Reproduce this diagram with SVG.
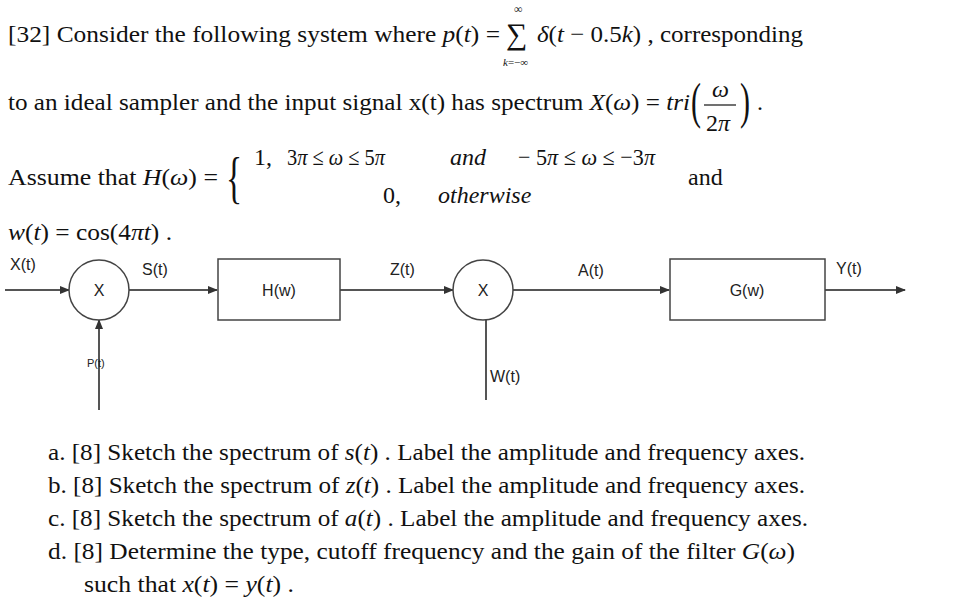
<svg xmlns="http://www.w3.org/2000/svg" width="965" height="615" viewBox="0 0 965 615">
<defs><marker id="ah" markerWidth="10" markerHeight="8" refX="9" refY="4" orient="auto" markerUnits="userSpaceOnUse"><path d="M0,0 L10,4 L0,8 z" fill="#333"/></marker>
<style>
.t{font-family:"Liberation Serif",serif;font-size:24px;fill:#111}
.i{font-style:italic}
.s{font-family:"Liberation Sans",sans-serif;font-size:16px;fill:#222}
.n{fill:#fff;stroke:#444;stroke-width:1.5}
.c{stroke:#555;stroke-width:2;fill:none}
</style></defs>
<rect width="965" height="615" fill="#fff"/>
<text class="t" x="8" y="42" textLength="492" lengthAdjust="spacingAndGlyphs">[32] Consider the following system where <tspan class="i">p</tspan>(<tspan class="i">t</tspan>) =</text>
<text class="t" x="506" y="44" style="font-size:30px">∑</text>
<text class="t" x="514" y="13" style="font-size:12px">∞</text>
<text class="t" x="503" y="66" style="font-size:11px"><tspan class="i">k</tspan>=−∞</text>
<text class="t" x="537" y="42" textLength="266" lengthAdjust="spacingAndGlyphs"><tspan class="i">δ</tspan>(<tspan class="i">t</tspan> − 0.5<tspan class="i">k</tspan>) , corresponding</text>
<text class="t" x="8" y="110" textLength="682" lengthAdjust="spacingAndGlyphs">to an ideal sampler and the input signal x(t) has spectrum <tspan class="i">X</tspan>(<tspan class="i">ω</tspan>) = <tspan class="i">tri</tspan></text>
<text class="t" x="691" y="118" style="font-size:50px" transform="translate(691,118) scale(0.6,1) translate(-691,-118)">(</text>
<text class="t i" x="712" y="97">ω</text>
<line x1="704" y1="105" x2="736" y2="105" stroke="#111" stroke-width="1.2"/>
<text class="t" x="706" y="131">2<tspan class="i">π</tspan></text>
<text class="t" x="740" y="118" style="font-size:50px" transform="translate(740,118) scale(0.6,1) translate(-740,-118)">)</text>
<text class="t" x="757" y="110">.</text>
<text class="t" x="8" y="185" textLength="210" lengthAdjust="spacingAndGlyphs">Assume that <tspan class="i">H</tspan>(<tspan class="i">ω</tspan>) =</text>
<text class="t" x="226" y="197" style="font-size:56px" transform="translate(226,197) scale(0.6,1) translate(-226,-197)">{</text>
<text class="t" x="254" y="165">1,</text>
<text class="t" x="287" y="165" textLength="98" lengthAdjust="spacingAndGlyphs">3<tspan class="i">π</tspan> ≤ <tspan class="i">ω</tspan> ≤ 5<tspan class="i">π</tspan></text>
<text class="t i" x="450" y="165">and</text>
<text class="t" x="518" y="165" textLength="137" lengthAdjust="spacingAndGlyphs">− 5<tspan class="i">π</tspan> ≤ <tspan class="i">ω</tspan> ≤ −3<tspan class="i">π</tspan></text>
<text class="t" x="688" y="185">and</text>
<text class="t" x="383" y="203">0,</text>
<text class="t i" x="438" y="203">otherwise</text>
<text class="t" x="8" y="240" textLength="164" lengthAdjust="spacingAndGlyphs"><tspan class="i">w</tspan>(<tspan class="i">t</tspan>) = cos(4<tspan class="i">πt</tspan>) .</text>
<g id="connectors">
<line class="c" x1="5" y1="290" x2="69" y2="290" marker-end="url(#ah)"/>
<line class="c" x1="129" y1="290" x2="217" y2="290" marker-end="url(#ah)"/>
<line class="c" x1="340" y1="290" x2="453" y2="290" marker-end="url(#ah)"/>
<line class="c" x1="513" y1="290" x2="669" y2="290" marker-end="url(#ah)"/>
<line class="c" x1="825" y1="290" x2="905" y2="290" marker-end="url(#ah)"/>
<line class="c" x1="99" y1="410" x2="99" y2="320" marker-end="url(#ah)"/>
<line class="c" x1="486" y1="320" x2="486" y2="400"/>
</g>
<g id="m1"><ellipse class="n" cx="99" cy="290" rx="30" ry="30"/><text class="s" x="99" y="296" text-anchor="middle">X</text></g>
<g id="h"><rect class="n" x="218" y="259" width="122" height="61"/><text class="s" x="279" y="296" text-anchor="middle">H(w)</text></g>
<g id="m2"><ellipse class="n" cx="483" cy="290" rx="30" ry="30"/><text class="s" x="483" y="296" text-anchor="middle">X</text></g>
<g id="g"><rect class="n" x="670" y="259" width="155" height="61"/><text class="s" x="747" y="296" text-anchor="middle">G(w)</text></g>
<g id="labels">
<text class="s" x="10" y="270">X(t)</text>
<text class="s" x="142" y="275">S(t)</text>
<text class="s" x="390" y="275">Z(t)</text>
<text class="s" x="578" y="276">A(t)</text>
<text class="s" x="836" y="274">Y(t)</text>
<text class="s" x="87" y="367" style="font-size:11px">P(t)</text>
<text class="s" x="490" y="382">W(t)</text>
</g>
<text class="t" x="48" y="460" textLength="757" lengthAdjust="spacingAndGlyphs">a.  [8] Sketch the spectrum of <tspan class="i">s</tspan>(<tspan class="i">t</tspan>) . Label the amplitude and frequency axes.</text>
<text class="t" x="48" y="493" textLength="757" lengthAdjust="spacingAndGlyphs">b.  [8] Sketch the spectrum of <tspan class="i">z</tspan>(<tspan class="i">t</tspan>) . Label the amplitude and frequency axes.</text>
<text class="t" x="48" y="526" textLength="760" lengthAdjust="spacingAndGlyphs">c.  [8] Sketch the spectrum of <tspan class="i">a</tspan>(<tspan class="i">t</tspan>) . Label the amplitude and frequency axes.</text>
<text class="t" x="48" y="559" textLength="747" lengthAdjust="spacingAndGlyphs">d.  [8] Determine the type, cutoff frequency and the gain of the filter <tspan class="i">G</tspan>(<tspan class="i">ω</tspan>)</text>
<text class="t" x="84" y="592" textLength="210" lengthAdjust="spacingAndGlyphs">such that <tspan class="i">x</tspan>(<tspan class="i">t</tspan>) = <tspan class="i">y</tspan>(<tspan class="i">t</tspan>) .</text>
</svg>
